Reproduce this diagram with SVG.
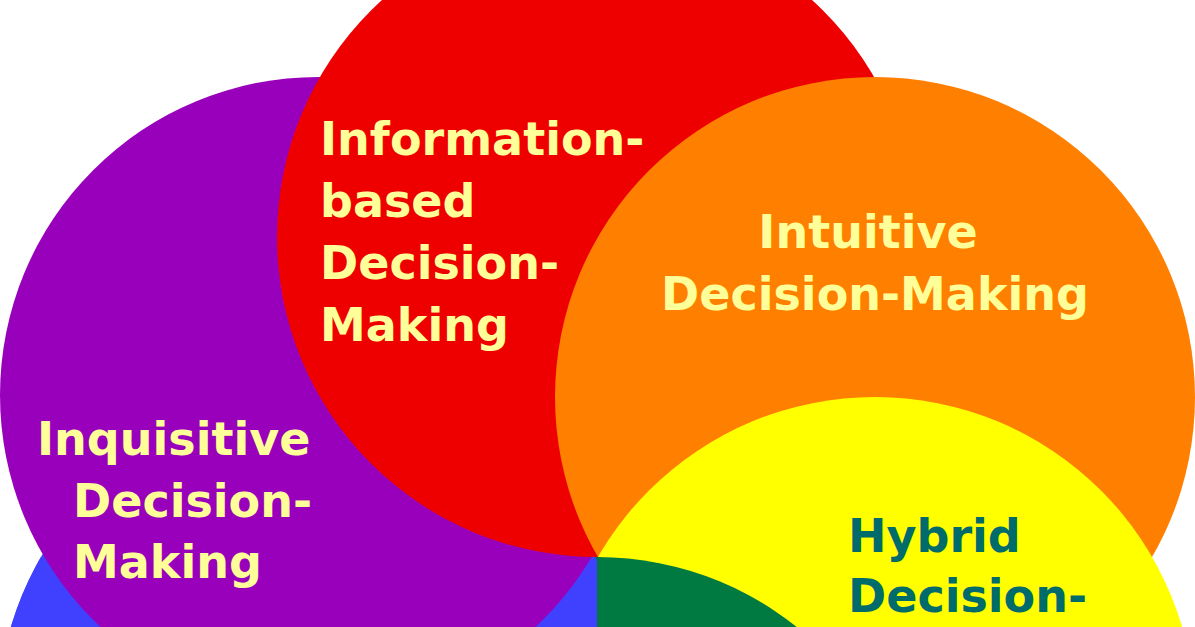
<svg xmlns="http://www.w3.org/2000/svg" width="1195" height="627" viewBox="0 0 1195 627">
<style>
text{font-family:"DejaVu Sans",Verdana,sans-serif;font-weight:bold;font-size:46px;fill:#ffff99}
.d{fill:#006b6b}
</style>
<defs><clipPath id="c"><rect x="0" y="557" width="597" height="70"/></clipPath></defs>
<rect width="1195" height="627" fill="#fff"/>
<g id="blue"><circle cx="318" cy="717" r="320" fill="#4040ff"/></g>
<g id="purple"><circle cx="318" cy="395" r="318" fill="#9900bb"/></g>
<g id="red"><circle cx="597" cy="237" r="320" fill="#ee0000"/></g>
<g id="orange"><circle cx="875" cy="397" r="320" fill="#ff7f00"/></g>
<g id="yellow"><circle cx="875" cy="717" r="320" fill="#ffff00"/></g>
<g id="green"><circle cx="597" cy="877" r="320" fill="#007a40"/></g>
<g clip-path="url(#c)">
<circle cx="318" cy="717" r="320" fill="#4040ff"/>
<circle cx="318" cy="395" r="318" fill="#9900bb"/>
</g>
<g id="labels">
<text x="320" y="155">Information-</text>
<text x="320" y="217">based</text>
<text x="320" y="279">Decision-</text>
<text x="320" y="341">Making</text>
<text x="868" y="248" text-anchor="middle">Intuitive</text>
<text x="875" y="310" text-anchor="middle">Decision-Making</text>
<text x="37" y="455">Inquisitive</text>
<text x="73" y="517">Decision-</text>
<text x="73" y="578">Making</text>
<text class="d" x="848" y="552">Hybrid</text>
<text class="d" x="848" y="612">Decision-</text>
</g>
</svg>
